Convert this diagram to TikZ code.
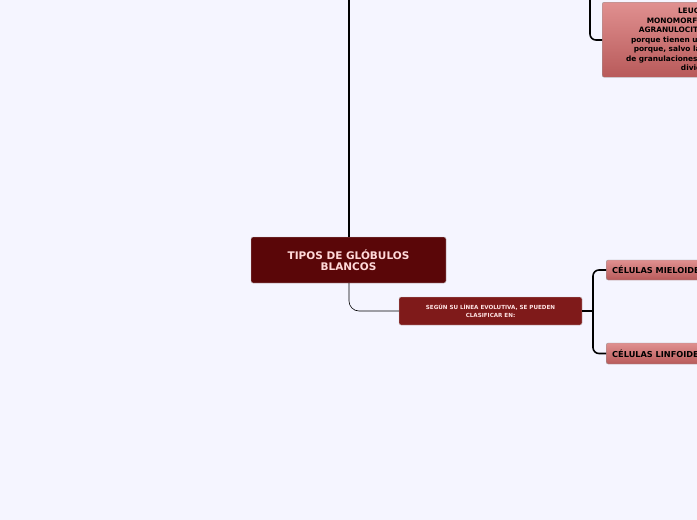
\documentclass[tikz,border=0pt]{standalone}
\usepackage{fontspec}
\setmainfont{DejaVu Sans}
\definecolor{mainred}{HTML}{5A0608}
\definecolor{subred}{HTML}{7F1A1A}
\definecolor{pinktop}{HTML}{E09090}
\definecolor{pinkbot}{HTML}{B85A5A}
\begin{document}
\begin{tikzpicture}[x=1pt,y=-1pt,
  conn/.style={line width=1.6pt,rounded corners=6pt},
  thin/.style={line width=0.6pt,rounded corners=10pt},
  pinkbox/.style={draw=gray!80,rounded corners=2pt,top color=pinktop,bottom color=pinkbot,inner sep=2pt},
]
\fill[blue!4!white] (0,0) rectangle (697,520);
\clip (0,0) rectangle (697,520);
\useasboundingbox (0,0) rectangle (697,520);
\node[draw=gray!40,fill=mainred,rounded corners=2pt,minimum width=195pt,minimum height=46pt,align=center,text=white!85!red,font=\bfseries\fontsize{10.5}{11.5}\selectfont] (main) at (348.5,260) {TIPOS DE GLÓBULOS\\BLANCOS};
\node[draw=gray!40,fill=subred,rounded corners=2pt,minimum width=183pt,minimum height=28pt,align=center,text=white!90!red,font=\bfseries\fontsize{5.6}{7.5}\selectfont] (sub) at (490.5,311) {SEGÚN SU LÍNEA EVOLUTIVA, SE PUEDEN\\CLASIFICAR EN:};
\node[pinkbox,minimum height=20pt,text width=150pt,inner xsep=6pt,anchor=west,font=\bfseries\fontsize{8.2}{9}\selectfont] (mie) at (606,270) {CÉLULAS MIELOIDES};
\node[pinkbox,minimum height=21pt,text width=150pt,inner xsep=6pt,anchor=west,font=\bfseries\fontsize{8.2}{9}\selectfont] (lin) at (606,353.5) {CÉLULAS LINFOIDES};
\node[pinkbox,minimum height=75pt,text width=200pt,align=center,anchor=north west,font=\bfseries\fontsize{7.4}{9.5}\selectfont] (leu) at (602,2) {LEUCOCITOS\\MONOMORFONUCLEARES O\\AGRANULOCITOS: se llaman así\\porque tienen un núcleo redondo y\\porque, salvo las células, carecen\\de granulaciones citoplasmáticas. Se\\dividen en:};
\coordinate (top) at (349,0);
\coordinate (top2) at (590,0);
\draw[line width=1.6pt] (top) -- (main.north -| top);
\draw[thin] (main.south -| top) |- (sub.west);
\draw[line width=1.6pt] (sub.east) -- (593,311);
\draw[conn] (593,311) |- (mie.west);
\draw[conn] (593,311) |- (lin.west);
\draw[conn] (top2) |- (leu.west |- 0,40);
\end{tikzpicture}
\end{document}
